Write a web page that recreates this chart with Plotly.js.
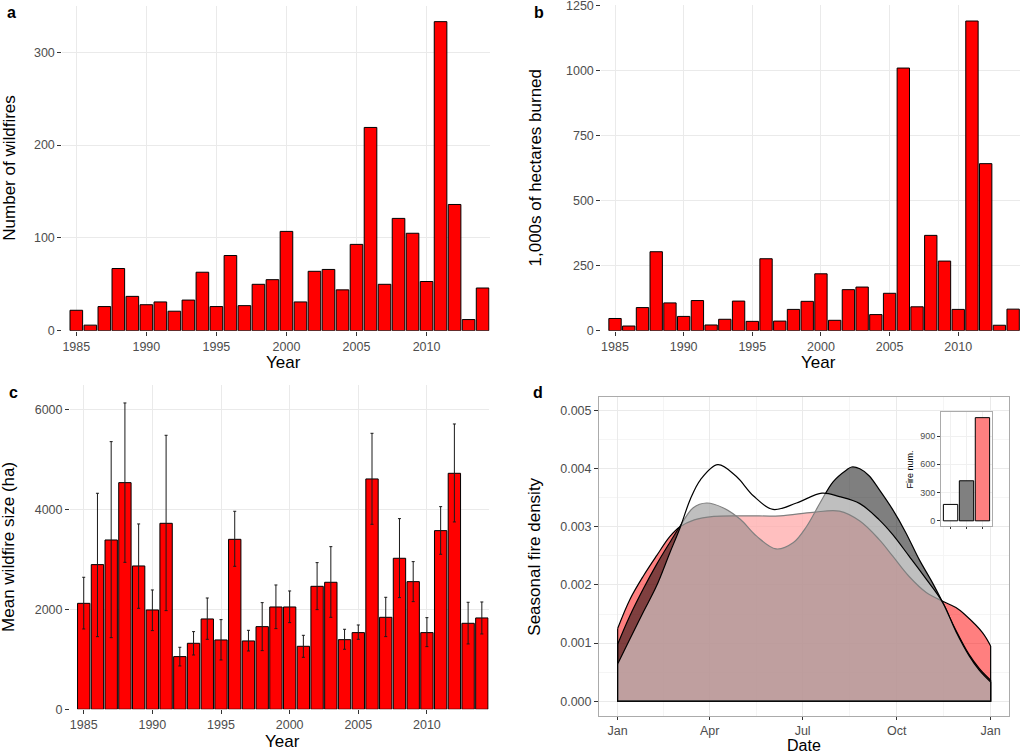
<!DOCTYPE html>
<html>
<head>
<meta charset="utf-8">
<script src="https://cdn.plot.ly/plotly-3.0.1.min.js"></script>
<style>html,body{margin:0;padding:0;background:#fff;}#chart{width:1024px;height:755px;}</style>
</head>
<body>
<div id="chart"></div>
<script>
// ---------- data ----------
const years = [1985,1986,1987,1988,1989,1990,1991,1992,1993,1994,1995,1996,1997,1998,1999,2000,2001,2002,2003,2004,2005,2006,2007,2008,2009,2010,2011,2012,2013,2014];
const wildfireCount = [22,6,26,67,37,28,31,21,33,63,26,81,27,50,55,107,31,64,66,44,93,219,50,121,105,53,333,136,12,46];
const hectaresBurned = [47,18,89,304,107,55,116,22,44,114,36,277,37,82,113,219,40,158,168,62,144,1011,92,367,268,82,1192,643,21,83];
const meanFireSize = [2124,2900,3394,4543,2873,1991,3728,1056,1323,1811,1390,3407,1370,1657,2051,2051,1263,2465,2546,1396,1537,4617,1844,3027,2559,1537,3581,4730,1724,1831];
const meanFireSizeUpper = [2646,4330,5365,6140,3715,2392,5492,1243,1557,2231,1797,3969,1583,2138,2492,2372,1483,2940,3260,1604,1690,5532,2245,3822,2960,1837,4062,5719,2145,2151];
const meanFireSizeLower = [1610,1456,1436,2946,2024,1577,1978,869,1089,1403,989,2866,1169,1176,1617,1737,1042,1998,1844,1203,1403,3708,1457,2238,2158,1256,3107,3755,1310,1510];
const yearTicks = [1985,1990,1995,2000,2005,2010];

// seasonal densities (day of year)
const redDays = [0,12,25,38,51,61,75,94,126,159,191,217,237,256,269,285,302,318,331,341,357,365];
const redDensity = [0.00125,0.00175,0.00215,0.0025,0.00283,0.0030,0.00312,0.00318,0.00319,0.00319,0.00325,0.00327,0.0031,0.00278,0.0025,0.00215,0.00187,0.00172,0.00161,0.00147,0.00118,0.00095];
const grayDays = [0,12,25,38,51,61,74,87,103,120,136,155,172,185,198,211,224,229,237,246,256,269,282,295,308,318,331,344,354,365];
const grayDensity = [0.00098,0.00147,0.00193,0.00235,0.00273,0.00301,0.00333,0.00341,0.00333,0.00313,0.00284,0.00262,0.00273,0.00301,0.00341,0.00378,0.00398,0.00403,0.0040,0.00388,0.00364,0.0033,0.0029,0.00244,0.00204,0.0017,0.00122,0.0008,0.00056,0.00036];
const whiteDays = [0,12,25,38,51,61,71,81,98,116,133,152,175,200,217,237,256,269,285,302,318,331,344,354,365];
const whiteDensity = [0.00064,0.00107,0.00153,0.00198,0.00255,0.00298,0.00347,0.00381,0.00407,0.00387,0.00353,0.0033,0.00341,0.00358,0.00352,0.0034,0.00312,0.00287,0.0025,0.0021,0.0017,0.0012,0.00078,0.00053,0.00033];
const monthTickDays = [0,90,181,273,365];
const monthTickLabels = ['Jan','Apr','Jul','Oct','Jan'];
const densityTicks = [0,0.001,0.002,0.003,0.004,0.005];

// inset: fire numbers per group
const fireGroups = ['group 1','group 2','group 3'];
const fireNum = [174,425,1095];

// ---------- helpers ----------
const W = 1024, H = 755;
const px = v => v / W;
const py = v => 1 - v / H;
const FONT = 'Liberation Sans, Arial, Helvetica, sans-serif';
const tickFont = {family: FONT, size: 12.5, color: '#4D4D4D'};
const gridC = '#EAEAEA';

const traces = [];
function barTrace(y, xa, ya, extra) {
  return Object.assign({
    type: 'bar', x: years, y: y, width: 0.9, xaxis: xa, yaxis: ya,
    marker: {color: '#FF0000', line: {color: '#000000', width: 1}},
    hoverinfo: 'x+y', showlegend: false
  }, extra || {});
}
traces.push(barTrace(wildfireCount, 'x', 'y'));
traces.push(barTrace(hectaresBurned, 'x2', 'y2'));
traces.push(barTrace(meanFireSize, 'x3', 'y3', {
  error_y: {type: 'data', symmetric: false,
    array: meanFireSizeUpper.map((u, i) => u - meanFireSize[i]),
    arrayminus: meanFireSize.map((m, i) => m - meanFireSizeLower[i]),
    color: '#1A1A1A', thickness: 1, width: 1.5}
}));

function densityTraces(days, dens, fill) {
  const n = days.length;
  return [
    {type: 'scatter', mode: 'lines', x: days, y: dens, xaxis: 'x4', yaxis: 'y4',
     fill: 'tozeroy', fillcolor: fill, line: {color: '#000000', width: 1.2, shape: 'spline', smoothing: 1},
     showlegend: false, hoverinfo: 'skip'},
    {type: 'scatter', mode: 'lines', xaxis: 'x4', yaxis: 'y4',
     x: [days[0], days[0], days[n - 1], days[n - 1]],
     y: [dens[0], 0, 0, dens[n - 1]],
     line: {color: '#000000', width: 1.2}, showlegend: false, hoverinfo: 'skip'}
  ];
}
traces.push(...densityTraces(redDays, redDensity, 'rgba(255,0,0,0.5)'));
traces.push(...densityTraces(grayDays, grayDensity, 'rgba(0,0,0,0.5)'));
traces.push(...densityTraces(whiteDays, whiteDensity, 'rgba(255,255,255,0.5)'));

traces.push({
  type: 'bar', x: fireGroups, y: fireNum, width: 0.9, xaxis: 'x5', yaxis: 'y5',
  marker: {color: ['#FFFFFF', '#808080', '#FF8080'], line: {color: '#000000', width: 1}},
  showlegend: false, hoverinfo: 'y'
});

function yearAxis(l, r, anchor) {
  return {domain: [px(l), px(r)], range: [1984, 2014.5], anchor: anchor,
    tickmode: 'array', tickvals: yearTicks, ticks: 'outside', ticklen: 4, tickcolor: '#333333',
    tickfont: tickFont, ticklabeloverflow: 'allow',
    showgrid: true, gridcolor: gridC, gridwidth: 1, zeroline: false, showline: false};
}
function valAxis(t, b, range, tickvals, anchor) {
  return {domain: [py(b), py(t)], range: range, anchor: anchor,
    tickmode: 'array', tickvals: tickvals, ticks: 'outside', ticklen: 4, tickcolor: '#333333',
    tickfont: tickFont, ticklabeloverflow: 'allow',
    showgrid: true, gridcolor: gridC, gridwidth: 1, zeroline: false, showline: false};
}

const layout = {
  width: W, height: H, margin: {l: 0, r: 0, t: 0, b: 0},
  paper_bgcolor: '#FFFFFF', plot_bgcolor: '#FFFFFF',
  font: {family: FONT, color: '#000000'},
  showlegend: false,
  xaxis: yearAxis(62.3, 489.6, 'y'),
  yaxis: valAxis(6.2, 330.7, [0, 349.65], [0, 100, 200, 300], 'x'),
  xaxis2: yearAxis(601.3, 1020, 'y2'),
  yaxis2: valAxis(5.0, 330.7, [0, 1253.7], [0, 250, 500, 750, 1000, 1250], 'x2'),
  xaxis3: yearAxis(70, 488.7, 'y3'),
  yaxis3: valAxis(385, 709.3, [0, 6500], [0, 2000, 4000, 6000], 'x3'),
  xaxis4: {domain: [px(599), px(1009.3)], range: [-18.25, 383.25], anchor: 'y4',
    tickmode: 'array', tickvals: monthTickDays, ticktext: monthTickLabels,
    ticks: 'outside', ticklen: 3, tickcolor: '#333333', tickfont: tickFont, ticklabeloverflow: 'allow',
    showgrid: true, gridcolor: gridC, zeroline: false,
    showline: true, mirror: true, linecolor: '#ABABAB', linewidth: 1,
    minor: {tickmode: 'array', tickvals: [45, 135.5, 227, 319], showgrid: true, gridcolor: '#F5F5F5', ticks: ''}},
  yaxis4: {domain: [py(715.5), py(396.7)], range: [-0.000247, 0.00524], anchor: 'x4',
    tickmode: 'array', tickvals: densityTicks, tickformat: '.3f',
    ticks: 'outside', ticklen: 4, tickcolor: '#333333', tickfont: tickFont, ticklabeloverflow: 'allow',
    showgrid: true, gridcolor: gridC, zeroline: false,
    showline: true, mirror: true, linecolor: '#ABABAB', linewidth: 1,
    minor: {tickmode: 'array', tickvals: [0.0005, 0.0015, 0.0025, 0.0035, 0.0045], showgrid: true, gridcolor: '#F5F5F5', ticks: ''}},
  xaxis5: {domain: [px(941), px(992)], range: [-0.6, 2.6], anchor: 'y5', type: 'category',
    showticklabels: false, ticks: 'outside', ticklen: 2, tickcolor: '#333333',
    showgrid: true, gridcolor: '#F0F0F0', zeroline: false,
    showline: true, mirror: true, linecolor: '#ABABAB', linewidth: 1},
  yaxis5: {domain: [py(526), py(412)], range: [-55, 1155], anchor: 'x5',
    tickmode: 'array', tickvals: [0, 300, 600, 900], ticks: 'outside', ticklen: 3, tickcolor: '#333333',
    tickfont: {family: FONT, size: 9, color: '#4D4D4D'},
    showgrid: true, gridcolor: '#F0F0F0', zeroline: false,
    showline: true, mirror: true, linecolor: '#ABABAB', linewidth: 1},
  shapes: [
    {type: 'rect', xref: 'x5 domain', yref: 'y5 domain', x0: 0, x1: 1, y0: 0, y1: 1,
     fillcolor: '#FFFFFF', line: {width: 0}, layer: 'below'}
  ],
  annotations: []
};

function ann(text, x, y, opts) {
  layout.annotations.push(Object.assign({
    text: text, xref: 'paper', yref: 'paper', x: px(x), y: py(y),
    xanchor: 'center', yanchor: 'middle', showarrow: false,
    font: {family: FONT, size: 17, color: '#000000'}
  }, opts || {}));
}
// panel letters
const letterFont = {family: FONT, size: 16, color: '#000000', weight: 'bold'};
ann('<b>a</b>', 5, 12.7, {xanchor: 'left', font: letterFont});
ann('<b>b</b>', 531.7, 12.7, {xanchor: 'left', font: letterFont});
ann('<b>c</b>', 6.7, 392.4, {xanchor: 'left', font: letterFont});
ann('<b>d</b>', 530.7, 392.7, {xanchor: 'left', font: letterFont});
// axis titles
ann('Year', 283, 363);
ann('Year', 818, 363);
ann('Year', 282.5, 741);
ann('Date', 804, 755, {yanchor: 'bottom', borderpad: 0, font: {family: FONT, size: 16, color: '#000000'}});
ann('Number of wildfires', 9.2, 167.5, {textangle: -90});
ann('1,000s of hectares burned', 535, 167.5, {textangle: -90});
ann('Mean wildfire size (ha)', 9.2, 546.7, {textangle: -90});
ann('Seasonal fire density', 535, 556.7, {textangle: -90});
ann('Fire num.', 909, 469.5, {textangle: -90, font: {family: FONT, size: 9, color: '#000000'}});

Plotly.newPlot('chart', traces, layout, {displayModeBar: false, staticPlot: true});
</script>
</body>
</html>
